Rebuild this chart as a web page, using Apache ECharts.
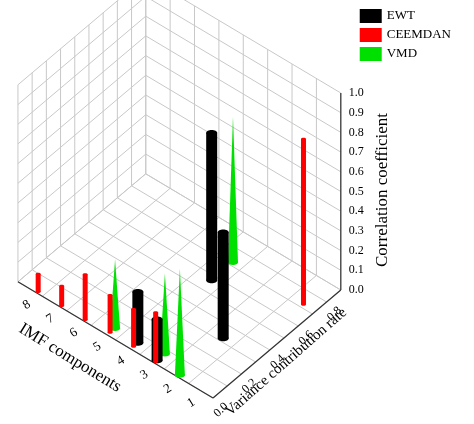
<!DOCTYPE html>
<html><head><meta charset="utf-8">
<script src="https://cdn.jsdelivr.net/npm/echarts@6/dist/echarts.min.js"></script>
<style>html,body{margin:0;background:#fff}#c{width:474px;height:424px}</style>
</head><body><div id="c"></div>
<script>
// data: [IMF component, variance contribution rate, correlation coefficient]
const imfTicks = ['1','2','3','4','5','6','7','8'];
const varTicks = ['0.0','0.2','0.4','0.6','0.8'];
const corrTicks = ['0.0','0.1','0.2','0.3','0.4','0.5','0.6','0.7','0.8','0.9','1.0'];
const ewt = [[2,0.32,0.54],[4,0.57,0.75],[3,0.02,0.21],[4,0.05,0.26]];
const ceemdan = [[1,0.72,0.84],[3,0.01,0.25],[4,0.02,0.19],[5,0.02,0.19],[6,0.01,0.23],[7,0.01,0.10],[8,0.01,0.09]];
const vmd = [[4,0.72,0.74],[2,0.015,0.54],[3,0.075,0.41],[5,0.055,0.35]];

const OX=213,OY=398,AX=-23.5,AY=-14,VX=142,VY=-120,ZH=197;
const AMAX=8.3,VMAX=0.9,ZMAX=1.0;
function P(a,v,z){return [OX+a*AX+v*VX, OY+a*AY+v*VY-z*ZH];}
const FONT='Liberation Serif';
const gray='#c8c8c8';
const g=[];
function line(p,q,c,w){g.push({type:'line',silent:true,z:1,shape:{x1:p[0],y1:p[1],x2:q[0],y2:q[1]},style:{stroke:c||gray,lineWidth:w||1}});}
function poly(pts,fill){g.push({type:'polygon',silent:true,z:0,shape:{points:pts},style:{fill:fill}});}
poly([P(0,0,0),P(AMAX,0,0),P(AMAX,VMAX,0),P(0,VMAX,0)],'#fff');
for(let i=0;i<=imfTicks.length;i++){const a=i*AMAX/8;line(P(a,0,0),P(a,VMAX,0));}
for(let j=0;j<=9;j++){const v=j*0.1;line(P(0,v,0),P(AMAX,v,0));}
for(let j=0;j<=9;j++){const v=j*0.1;line(P(AMAX,v,0),P(AMAX,v,ZMAX));}
for(let k=0;k<corrTicks.length;k++){const z=k*0.1;line(P(AMAX,0,z),P(AMAX,VMAX,z));}
for(let i=0;i<=8;i++){const a=i*AMAX/8;line(P(a,VMAX,0),P(a,VMAX,ZMAX));}
for(let k=0;k<corrTicks.length;k++){const z=k*0.1;line(P(0,VMAX,z),P(AMAX,VMAX,z));}
line(P(0,0,0),P(AMAX,0,0),'#333',1.2);
line(P(0,0,0),P(0,VMAX,0),'#333',1.2);
line(P(0,VMAX,0),P(0,VMAX,ZMAX),'#333',1.2);
function text(p,s,size,rot,align,vAlign){g.push({type:'text',silent:true,z:5,x:p[0],y:p[1],rotation:rot||0,style:{text:s,font:size+'px "'+FONT+'"',fill:'#000',align:align||'center',verticalAlign:vAlign||'middle'}});}
imfTicks.forEach((t,i)=>{const p=P(i+0.5,0,0);text([p[0]-10,p[1]+12],t,13,0.55);});
varTicks.forEach((t,j)=>{const p=P(0,j*0.2,0);text([p[0]+8,p[1]+12],t,12,0.75);});
corrTicks.forEach((t,k)=>{const p=P(0,VMAX,k*0.1);text([p[0]+8,p[1]],t,12,0,'left');});
text([70,358],'IMF components',17,-0.55);
text([286,362],'Variance contribution rate',15,0.72);
text([383,190],'Correlation coefficient',17,Math.PI/2);

function makeSeries(name,data,color,kind){
  return {name,type:'custom',coordinateSystem:'none',data,itemStyle:{color},
    renderItem(params,api){
      const a=api.value(0)-0.5,v=api.value(1),z=api.value(2);
      const b=P(a,v,0),t=P(a,v,z);
      const depth=a*10+v*100;
      const z2=Math.round(2000-depth*10);
      let w=kind==='cyl'?11:(kind==='cone'?10:5);
      const ch=[];
      if(kind==='cone'){
        ch.push({type:'polygon',shape:{points:[[b[0]-w/2,b[1]],[b[0]+w/2,b[1]],[t[0],t[1]]]},style:{fill:color}});
        ch.push({type:'ellipse',shape:{cx:b[0],cy:b[1],rx:w/2,ry:2.5},style:{fill:color}});
      }else{
        ch.push({type:'rect',shape:{x:b[0]-w/2,y:t[1],width:w,height:b[1]-t[1]},style:{fill:color}});
        ch.push({type:'ellipse',shape:{cx:b[0],cy:b[1],rx:w/2,ry:w/4},style:{fill:color}});
        ch.push({type:'ellipse',shape:{cx:t[0],cy:t[1],rx:w/2,ry:w/4},style:{fill:color}});
      }
      return {type:'group',z2,children:ch.map(c=>Object.assign(c,{z2}))};
    }};
}
const chart=echarts.init(document.getElementById('c'));
chart.setOption({
  animation:false,
  legend:{orient:'vertical',right:18,top:4,itemWidth:22,itemHeight:14,itemGap:5,icon:'rect',
    textStyle:{fontFamily:FONT,fontSize:13,color:'#000'},data:['EWT','CEEMDAN','VMD']},
  graphic:g,
  series:[makeSeries('EWT',ewt,'#000','cyl'),makeSeries('CEEMDAN',ceemdan,'#ff0000','bar'),makeSeries('VMD',vmd,'#00e000','cone')]
});
</script></body></html>
